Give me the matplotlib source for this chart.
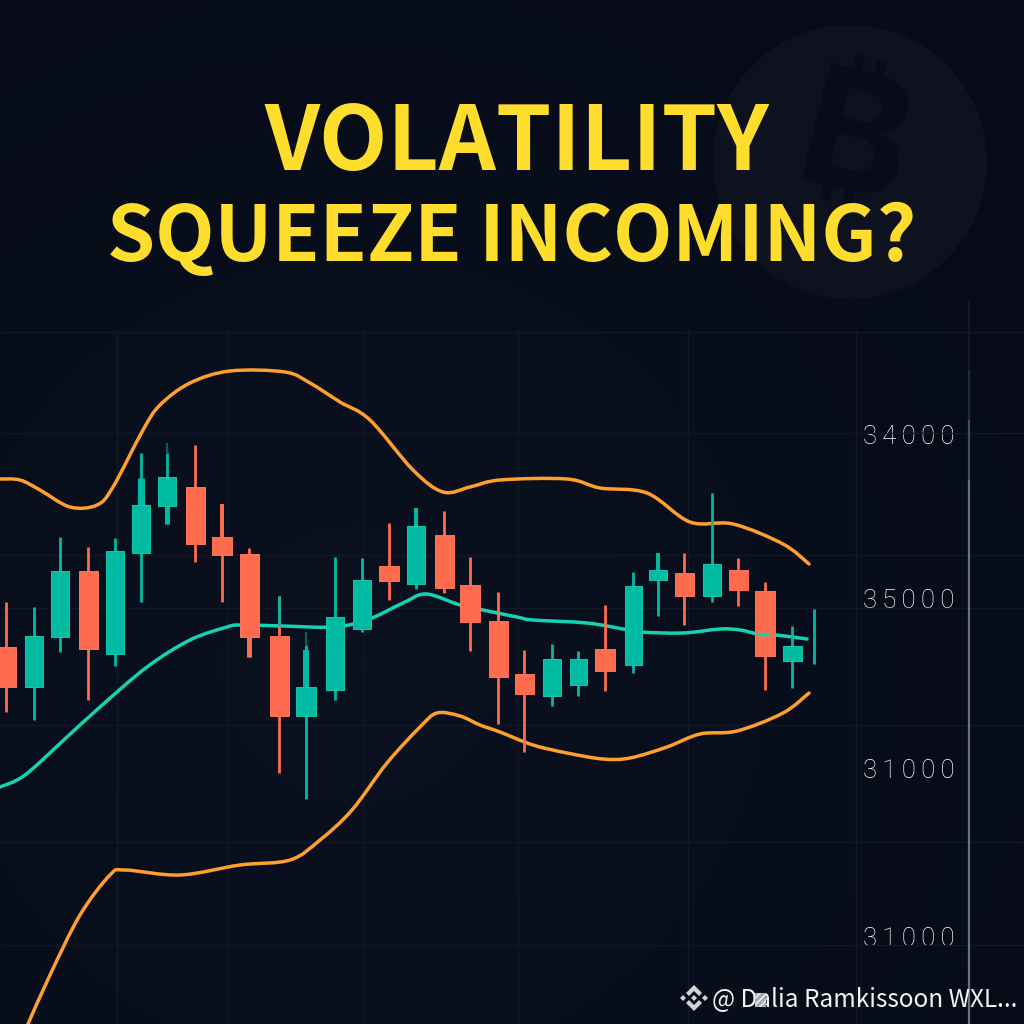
import numpy as np
import matplotlib
matplotlib.use("Agg")
import matplotlib.pyplot as plt
from matplotlib.patches import Circle, Polygon, PathPatch, Rectangle
from matplotlib.path import Path
from matplotlib.colors import LinearSegmentedColormap

# price scale is the chart's own vertical level (0 at the top edge, 1024 at the bottom)
x_pos  = [6, 34, 60, 88, 115, 141, 167, 195, 222, 249, 279, 306, 335, 362, 389, 416, 444, 470, 498, 524, 552, 578, 605, 633, 658, 684, 712, 738, 765, 792, 814]
high   = [602, 607, 537, 547, 538, 453, 453, 445, 504, 548, 596, 645, 557, 558, 523, 508, 511, 557, 592, 650, 644, 651, 605, 572, 553, 553, 493, 558, 582, 626, 609]
low    = [712, 720, 652, 700, 666, 602, 524, 562, 602, 657, 773, 799, 700, 632, 600, 589, 593, 651, 724, 752, 706, 696, 691, 673, 616, 625, 602, 606, 690, 688, 664]
b_top  = [647, 636, 571, 571, 551, 505, 477, 487, 537, 554, 636, 687, 617, 580, 566, 526, 535, 585, 621, 674, 659, 659, 649, 586, 570, 573, 564, 570, 591, 646, 625]
b_bot  = [687, 687, 637, 649, 654, 553, 506, 544, 555, 637, 716, 716, 690, 629, 581, 584, 588, 622, 677, 694, 696, 685, 671, 665, 580, 596, 596, 590, 656, 661, 627]
b_wid  = [19, 18, 18, 19, 18, 18, 18, 19, 20, 19, 19, 20, 18, 18, 20, 18, 19, 20, 19, 19, 18, 17, 20, 17, 18, 19, 18, 19, 20, 19, 0]
is_up  = [0, 1, 1, 0, 1, 1, 1, 0, 0, 0, 0, 1, 1, 1, 0, 1, 0, 0, 0, 0, 1, 1, 0, 1, 1, 0, 1, 0, 0, 1, 1]
# stems that look thicker than the plain wick: candle index, from, to, width
thick = [(5, 478, 505, 7), (6, 506, 524, 5), (9, 637, 657, 5), (11, 650, 687, 6), (15, 508, 526, 4), (8, 504, 537, 4), (24, 553, 570, 4)]
# stem tips that fade out: candle index, from, to
faded = [(6, 443, 453), (11, 632, 645)]

mid_x = [0, 25, 67, 100, 147, 190, 227, 240, 283, 333, 367, 403, 426, 460, 483, 517, 533, 587, 623, 640, 683, 720, 740, 758, 768, 807]
mid_y = [787, 775, 737, 707, 667, 640, 627, 625, 626, 627, 620, 603, 594, 605, 610, 617, 620, 623, 629, 632, 633, 629, 630, 634, 634, 639]

up_x = [0, 20, 40, 70, 97, 113, 143, 160, 190, 230, 285, 310, 340, 370, 413, 443, 470, 500, 567, 600, 647, 690, 733, 783, 809]
up_y = [479, 480, 490, 507, 505, 487, 430, 405, 383, 371, 372, 383, 402, 420, 470, 492, 487, 480, 479, 488, 493, 522, 524, 544, 564]

lo_x = [28, 50, 80, 110, 125, 180, 240, 290, 320, 352, 387, 420, 437, 460, 480, 500, 533, 567, 603, 630, 667, 700, 737, 783, 809]
lo_y = [1024, 975, 915, 875, 870, 875, 865, 860, 840, 810, 763, 727, 713, 716, 725, 732, 745, 753, 759, 758, 747, 734, 731, 713, 693]

tick_levels = [435, 598, 769, 937]
tick_labels = ["34000", "35000", "31000", "31000"]
grid_h = [332, 433, 555, 608, 725, 842, 945]
grid_v = [117, 227, 363, 518, 688, 856]

GREEN, RED, ORANGE, TEAL, YELLOW = "#00BBA1", "#FF6B4D", "#FF9F2E", "#14D3B2", "#FFDD2D"

fig = plt.figure(figsize=(10.24, 10.24), dpi=100)
ax = fig.add_axes([0, 0, 1, 1])
ax.set_xlim(0, 1024)
ax.set_ylim(1024, 0)

def smooth(xs, ys, color, lw, z):
    """Curve through the read points (Catmull-Rom handles as Bezier segments)."""
    p = np.column_stack([xs, ys]).astype(float)
    verts, codes = [p[0]], [Path.MOVETO]
    for i in range(len(p) - 1):
        p0, p1, p2, p3 = p[max(i - 1, 0)], p[i], p[i + 1], p[min(i + 2, len(p) - 1)]
        verts += [p1 + (p2 - p0) / 6, p2 - (p3 - p1) / 6, p2]
        codes += [Path.CURVE4] * 3
    ax.add_patch(PathPatch(Path(verts, codes), fill=False, edgecolor=color, lw=lw, zorder=z,
                           capstyle="round", joinstyle="round"))

# background
yy, xx = np.mgrid[0:1:128j, 0:1:128j]
rad = np.clip(np.hypot((xx - .35) / .8, (yy - .65) / .8), 0, 1)
cmap = LinearSegmentedColormap.from_list("bg", ["#0B111F", "#070B18"])
ax.imshow(rad, extent=[0, 1024, 1024, 0], cmap=cmap, aspect="auto", zorder=0)

# watermark coin
ax.add_patch(Circle((850, 162), 137, color="#0D121E", zorder=1, lw=0))
ax.text(853, 150, "\u20bf", color="#080C18", fontsize=118, fontweight="bold",
        family=["Inter", "Noto Sans", "Roboto", "Open Sans", "Lato", "Liberation Sans", "Noto Sans CJK SC", "DejaVu Sans"],
        ha="center", va="center", rotation=-14, zorder=1.5)

# grid
ax.hlines(grid_h, 0, 1024, color="#121926", lw=1.0, zorder=1.6)
ax.vlines(grid_v, 330, 1024, color="#121926", lw=1.0, zorder=1.6)

# right-hand price rule, fading in from the top
for y0, y1, c in [(300, 370, "#111826"), (370, 420, "#232A3A"), (420, 480, "#444E61"), (480, 1024, "#66708A")]:
    ax.vlines(969, y0, y1, color=c, lw=1.6, zorder=1.7)

# bands and mid line
smooth(up_x, up_y, ORANGE, 2.5, 2)
smooth(lo_x, lo_y, ORANGE, 2.5, 2)
smooth(mid_x, mid_y, TEAL, 2.5, 2)

# candles
cols = [GREEN if u else RED for u in is_up]
ax.vlines(x_pos, high, low, colors=cols, lw=2.0, zorder=3)
for i, y0, y1, w in thick:
    ax.vlines(x_pos[i], y0, y1, color=cols[i], lw=w * .72, zorder=3)
for i, y0, y1 in faded:
    ax.vlines(x_pos[i], y0, y1, color="#0A5F5A", lw=1.6, zorder=3)
ax.vlines(x_pos[10], 596, 626, color=GREEN, lw=2.0, zorder=3.1)  # stem above the red body is teal
heights = [b - t for t, b in zip(b_top, b_bot)]
edge = ["#12CBAE" if u else "#FF7558" for u in is_up]
ax.bar(x_pos, heights, bottom=b_top, width=b_wid, color=cols, edgecolor=edge, linewidth=.7, zorder=4)
ax.plot(mid_x[-3:-1], mid_y[-3:-1], color=TEAL, lw=2.5, zorder=5)

# axis
ax.yaxis.tick_right()
ax.set_yticks(tick_levels)
ax.set_yticklabels(["\u2009".join(t) for t in tick_labels], family="Roboto", fontweight="light",
                    fontsize=18.5, color="#FFFFFF", ha="right")
ax.tick_params(axis="y", length=0, pad=-49.8)
ax.set_xticks([])
for s in ax.spines.values():
    s.set_visible(False)

# headline
CJK = "Noto Sans CJK SC"
ax.text(517, 144, "VOLATILITY", family=CJK, fontweight="bold", fontsize=64, color=YELLOW,
        ha="center", va="center", zorder=6)
ax.text(512, 238, "SQUEEZE INCOMING?", family=CJK, fontweight="bold", fontsize=55.6, color=YELLOW,
        ha="center", va="center", zorder=6)

# footer mark, with the small smudge the reference has over one letter
ax.text(712, 1000, "@ Dalia Ramkissoon WXL...", family=CJK, fontweight="medium", fontsize=17.5, color="#F2F3F5",
        ha="left", va="center", zorder=6)
ax.add_patch(Rectangle((755, 993), 11, 14, facecolor="#A9ABB2", edgecolor="#F2F3F5", hatch="/////", lw=0, zorder=6.1))
g = "#D2D3D6"
c = (694, 998)
def poly(pts):
    ax.add_patch(Polygon([(c[0] + a, c[1] + b) for a, b in pts], closed=True, color=g, lw=0, zorder=6))
poly([(0, -13), (8, -5), (5, -2), (0, -7), (-5, -2), (-8, -5)])
poly([(0, 13), (8, 5), (5, 2), (0, 7), (-5, 2), (-8, 5)])
poly([(-14, 0), (-11, -3), (-8, 0), (-11, 3)])
poly([(14, 0), (11, -3), (8, 0), (11, 3)])
poly([(0, -3), (3, 0), (0, 3), (-3, 0)])

fig.savefig("out.png", dpi=100, facecolor="#070B18")
